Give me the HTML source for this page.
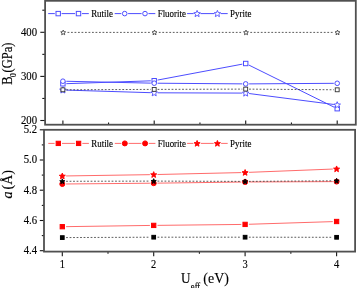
<!DOCTYPE html>
<html><head><meta charset="utf-8"><style>html,body{margin:0;padding:0;background:#fff;width:357px;height:288px;overflow:hidden}svg{display:block;filter:blur(0.45px)}</style></head>
<body><svg width="357" height="288" viewBox="0 0 357 288">
<rect width="357" height="288" fill="white"/>
<line x1="40.3" y1="32.3" x2="45.1" y2="32.3" stroke="#151515" stroke-width="1.1"/>
<line x1="40.3" y1="76.4" x2="45.1" y2="76.4" stroke="#151515" stroke-width="1.1"/>
<line x1="40.3" y1="120.5" x2="45.1" y2="120.5" stroke="#151515" stroke-width="1.1"/>
<line x1="42.3" y1="10.2" x2="45.1" y2="10.2" stroke="#151515" stroke-width="1.1"/>
<line x1="42.3" y1="54.35" x2="45.1" y2="54.35" stroke="#151515" stroke-width="1.1"/>
<line x1="42.3" y1="98.45" x2="45.1" y2="98.45" stroke="#151515" stroke-width="1.1"/>
<line x1="62.9" y1="120.5" x2="62.9" y2="124.7" stroke="#151515" stroke-width="1.1"/>
<line x1="154.2" y1="120.5" x2="154.2" y2="124.7" stroke="#151515" stroke-width="1.1"/>
<line x1="245.7" y1="120.5" x2="245.7" y2="124.7" stroke="#151515" stroke-width="1.1"/>
<line x1="337.2" y1="120.5" x2="337.2" y2="124.7" stroke="#151515" stroke-width="1.1"/>
<line x1="108.55" y1="122.5" x2="108.55" y2="124.7" stroke="#151515" stroke-width="1.1"/>
<line x1="199.95" y1="122.5" x2="199.95" y2="124.7" stroke="#151515" stroke-width="1.1"/>
<line x1="291.45" y1="122.5" x2="291.45" y2="124.7" stroke="#151515" stroke-width="1.1"/>
<line x1="67.50" y1="32.40" x2="150.20" y2="32.40" stroke="#333333" stroke-width="0.8" stroke-dasharray="1.8,1.7"/><line x1="158.80" y1="32.40" x2="241.70" y2="32.40" stroke="#333333" stroke-width="0.8" stroke-dasharray="1.8,1.7"/><line x1="250.30" y1="32.40" x2="333.20" y2="32.40" stroke="#333333" stroke-width="0.8" stroke-dasharray="1.8,1.7"/><polygon points="63.20,30.05 63.89,31.70 65.67,31.85 64.31,33.01 64.73,34.75 63.20,33.82 61.67,34.75 62.09,33.01 60.73,31.85 62.51,31.70" fill="white" stroke="#333333" stroke-width="0.8" stroke-linejoin="miter"/><polygon points="154.50,30.05 155.19,31.70 156.97,31.85 155.61,33.01 156.03,34.75 154.50,33.82 152.97,34.75 153.39,33.01 152.03,31.85 153.81,31.70" fill="white" stroke="#333333" stroke-width="0.8" stroke-linejoin="miter"/><polygon points="246.00,30.05 246.69,31.70 248.47,31.85 247.11,33.01 247.53,34.75 246.00,33.82 244.47,34.75 244.89,33.01 243.53,31.85 245.31,31.70" fill="white" stroke="#333333" stroke-width="0.8" stroke-linejoin="miter"/><polygon points="337.50,30.05 338.19,31.70 339.97,31.85 338.61,33.01 339.03,34.75 337.50,33.82 335.97,34.75 336.39,33.01 335.03,31.85 336.81,31.70" fill="white" stroke="#333333" stroke-width="0.8" stroke-linejoin="miter"/>
<line x1="66.30" y1="83.68" x2="150.80" y2="80.82" stroke="#4d4dff" stroke-width="1.0"/><line x1="157.54" y1="80.07" x2="242.36" y2="64.13" stroke="#4d4dff" stroke-width="1.0"/><line x1="248.75" y1="65.01" x2="334.15" y2="107.19" stroke="#4d4dff" stroke-width="1.0"/><rect x="60.70" y="81.60" width="4.4" height="4.4" fill="white" stroke="#4d4dff" stroke-width="1.0"/><rect x="152.00" y="78.50" width="4.4" height="4.4" fill="white" stroke="#4d4dff" stroke-width="1.0"/><rect x="243.50" y="61.30" width="4.4" height="4.4" fill="white" stroke="#4d4dff" stroke-width="1.0"/><rect x="335.00" y="106.50" width="4.4" height="4.4" fill="white" stroke="#4d4dff" stroke-width="1.0"/>
<line x1="66.30" y1="81.27" x2="150.80" y2="83.13" stroke="#4d4dff" stroke-width="1.0"/><line x1="157.60" y1="83.23" x2="242.30" y2="83.87" stroke="#4d4dff" stroke-width="1.0"/><line x1="249.10" y1="83.88" x2="333.80" y2="83.32" stroke="#4d4dff" stroke-width="1.0"/><circle cx="62.90" cy="81.20" r="2.3" fill="white" stroke="#4d4dff" stroke-width="1.0"/><circle cx="154.20" cy="83.20" r="2.3" fill="white" stroke="#4d4dff" stroke-width="1.0"/><circle cx="245.70" cy="83.90" r="2.3" fill="white" stroke="#4d4dff" stroke-width="1.0"/><circle cx="337.20" cy="83.30" r="2.3" fill="white" stroke="#4d4dff" stroke-width="1.0"/>
<line x1="66.30" y1="90.10" x2="150.80" y2="92.70" stroke="#4d4dff" stroke-width="1.0"/><line x1="157.60" y1="92.81" x2="242.30" y2="93.09" stroke="#4d4dff" stroke-width="1.0"/><line x1="249.07" y1="93.53" x2="333.83" y2="104.47" stroke="#4d4dff" stroke-width="1.0"/><polygon points="62.90,86.80 63.81,88.99 66.18,89.18 64.38,90.73 64.93,93.04 62.90,91.80 60.87,93.04 61.42,90.73 59.62,89.18 61.99,88.99" fill="white" stroke="#4d4dff" stroke-width="0.9" stroke-linejoin="miter"/><polygon points="154.20,89.60 155.11,91.79 157.48,91.98 155.68,93.53 156.23,95.84 154.20,94.60 152.17,95.84 152.72,93.53 150.92,91.98 153.29,91.79" fill="white" stroke="#4d4dff" stroke-width="0.9" stroke-linejoin="miter"/><polygon points="245.70,89.90 246.61,92.09 248.98,92.28 247.18,93.83 247.73,96.14 245.70,94.90 243.67,96.14 244.22,93.83 242.42,92.28 244.79,92.09" fill="white" stroke="#4d4dff" stroke-width="0.9" stroke-linejoin="miter"/><polygon points="337.20,101.70 338.11,103.89 340.48,104.08 338.68,105.63 339.23,107.94 337.20,106.70 335.17,107.94 335.72,105.63 333.92,104.08 336.29,103.89" fill="white" stroke="#4d4dff" stroke-width="0.9" stroke-linejoin="miter"/>
<line x1="66.30" y1="89.79" x2="150.80" y2="89.41" stroke="#333333" stroke-width="0.8" stroke-dasharray="1.8,1.7"/><line x1="157.60" y1="89.39" x2="242.30" y2="89.11" stroke="#333333" stroke-width="0.8" stroke-dasharray="1.8,1.7"/><line x1="249.10" y1="89.13" x2="333.80" y2="89.77" stroke="#333333" stroke-width="0.8" stroke-dasharray="1.8,1.7"/><rect x="60.95" y="87.85" width="3.9" height="3.9" fill="white" stroke="#333333" stroke-width="0.9"/><rect x="152.25" y="87.45" width="3.9" height="3.9" fill="white" stroke="#333333" stroke-width="0.9"/><rect x="243.75" y="87.15" width="3.9" height="3.9" fill="white" stroke="#333333" stroke-width="0.9"/><rect x="335.25" y="87.85" width="3.9" height="3.9" fill="white" stroke="#333333" stroke-width="0.9"/>
<rect x="45.1" y="0.8" width="310.7" height="123.9" fill="none" stroke="#505050" stroke-width="1.8"/>
<text transform="translate(37.10,35.60) scale(0.88,1)" text-anchor="end" font-size="12.2" font-family="Liberation Serif, serif" fill="#000" stroke="#000" stroke-width="0.15">400</text>
<text transform="translate(37.10,79.70) scale(0.88,1)" text-anchor="end" font-size="12.2" font-family="Liberation Serif, serif" fill="#000" stroke="#000" stroke-width="0.15">300</text>
<text transform="translate(37.10,123.80) scale(0.88,1)" text-anchor="end" font-size="12.2" font-family="Liberation Serif, serif" fill="#000" stroke="#000" stroke-width="0.15">200</text>
<line x1="48.20" y1="13.6" x2="54.80" y2="13.6" stroke="#4d4dff" stroke-width="1.0"/><line x1="61.60" y1="13.6" x2="75.10" y2="13.6" stroke="#4d4dff" stroke-width="1.0"/><line x1="81.90" y1="13.6" x2="88.80" y2="13.6" stroke="#4d4dff" stroke-width="1.0"/><rect x="56.00" y="11.40" width="4.4" height="4.4" fill="white" stroke="#4d4dff" stroke-width="1.0"/><rect x="76.30" y="11.40" width="4.4" height="4.4" fill="white" stroke="#4d4dff" stroke-width="1.0"/><text transform="translate(91.20,16.90) scale(0.84,1)" text-anchor="start" font-size="10.6" font-family="Liberation Serif, serif" fill="#000" stroke="#000" stroke-width="0.15">Rutile</text><line x1="114.70" y1="13.6" x2="121.30" y2="13.6" stroke="#4d4dff" stroke-width="1.0"/><line x1="128.10" y1="13.6" x2="141.60" y2="13.6" stroke="#4d4dff" stroke-width="1.0"/><line x1="148.40" y1="13.6" x2="155.30" y2="13.6" stroke="#4d4dff" stroke-width="1.0"/><circle cx="124.70" cy="13.60" r="2.3" fill="white" stroke="#4d4dff" stroke-width="1.0"/><circle cx="145.00" cy="13.60" r="2.3" fill="white" stroke="#4d4dff" stroke-width="1.0"/><text transform="translate(157.70,16.90) scale(0.84,1)" text-anchor="start" font-size="10.6" font-family="Liberation Serif, serif" fill="#000" stroke="#000" stroke-width="0.15">Fluorite</text><line x1="187.10" y1="13.6" x2="193.70" y2="13.6" stroke="#4d4dff" stroke-width="1.0"/><line x1="200.50" y1="13.6" x2="214.00" y2="13.6" stroke="#4d4dff" stroke-width="1.0"/><line x1="220.80" y1="13.6" x2="227.70" y2="13.6" stroke="#4d4dff" stroke-width="1.0"/><polygon points="197.10,10.40 198.01,12.59 200.38,12.78 198.58,14.33 199.13,16.64 197.10,15.40 195.07,16.64 195.62,14.33 193.82,12.78 196.19,12.59" fill="white" stroke="#4d4dff" stroke-width="0.9" stroke-linejoin="miter"/><polygon points="217.40,10.40 218.31,12.59 220.68,12.78 218.88,14.33 219.43,16.64 217.40,15.40 215.37,16.64 215.92,14.33 214.12,12.78 216.49,12.59" fill="white" stroke="#4d4dff" stroke-width="0.9" stroke-linejoin="miter"/><text transform="translate(230.10,16.90) scale(0.84,1)" text-anchor="start" font-size="10.6" font-family="Liberation Serif, serif" fill="#000" stroke="#000" stroke-width="0.15">Pyrite</text>
<line x1="39.8" y1="129.8" x2="44.0" y2="129.8" stroke="#151515" stroke-width="1.1"/>
<line x1="39.8" y1="160.0" x2="44.0" y2="160.0" stroke="#151515" stroke-width="1.1"/>
<line x1="39.8" y1="190.2" x2="44.0" y2="190.2" stroke="#151515" stroke-width="1.1"/>
<line x1="39.8" y1="220.5" x2="44.0" y2="220.5" stroke="#151515" stroke-width="1.1"/>
<line x1="39.8" y1="250.7" x2="44.0" y2="250.7" stroke="#151515" stroke-width="1.1"/>
<line x1="41.8" y1="144.9" x2="44.0" y2="144.9" stroke="#151515" stroke-width="1.1"/>
<line x1="41.8" y1="175.1" x2="44.0" y2="175.1" stroke="#151515" stroke-width="1.1"/>
<line x1="41.8" y1="205.4" x2="44.0" y2="205.4" stroke="#151515" stroke-width="1.1"/>
<line x1="41.8" y1="235.6" x2="44.0" y2="235.6" stroke="#151515" stroke-width="1.1"/>
<line x1="62.3" y1="251.6" x2="62.3" y2="256.2" stroke="#151515" stroke-width="1.1"/>
<line x1="153.7" y1="251.6" x2="153.7" y2="256.2" stroke="#151515" stroke-width="1.1"/>
<line x1="245.1" y1="251.6" x2="245.1" y2="256.2" stroke="#151515" stroke-width="1.1"/>
<line x1="336.6" y1="251.6" x2="336.6" y2="256.2" stroke="#151515" stroke-width="1.1"/>
<line x1="108.0" y1="251.6" x2="108.0" y2="253.7" stroke="#151515" stroke-width="1.1"/>
<line x1="199.39999999999998" y1="251.6" x2="199.39999999999998" y2="253.7" stroke="#151515" stroke-width="1.1"/>
<line x1="290.85" y1="251.6" x2="290.85" y2="253.7" stroke="#151515" stroke-width="1.1"/>
<line x1="66.10" y1="226.65" x2="149.90" y2="225.45" stroke="#ff3a3a" stroke-width="0.75"/><line x1="157.50" y1="225.36" x2="241.30" y2="224.44" stroke="#ff3a3a" stroke-width="0.75"/><line x1="248.90" y1="224.28" x2="332.80" y2="221.62" stroke="#ff3a3a" stroke-width="0.75"/><rect x="60.15" y="224.55" width="4.3" height="4.3" fill="#ff0000" stroke="#ff0000" stroke-width="1.0"/><rect x="151.55" y="223.25" width="4.3" height="4.3" fill="#ff0000" stroke="#ff0000" stroke-width="1.0"/><rect x="242.95" y="222.25" width="4.3" height="4.3" fill="#ff0000" stroke="#ff0000" stroke-width="1.0"/><rect x="334.45" y="219.35" width="4.3" height="4.3" fill="#ff0000" stroke="#ff0000" stroke-width="1.0"/>
<line x1="66.10" y1="183.97" x2="149.90" y2="183.23" stroke="#ff3a3a" stroke-width="0.75"/><line x1="157.50" y1="183.15" x2="241.30" y2="182.05" stroke="#ff3a3a" stroke-width="0.75"/><line x1="248.90" y1="181.98" x2="332.80" y2="181.62" stroke="#ff3a3a" stroke-width="0.75"/><circle cx="62.30" cy="184.00" r="2.5" fill="#ff0000" stroke="#ff0000" stroke-width="1.0"/><circle cx="153.70" cy="183.20" r="2.5" fill="#ff0000" stroke="#ff0000" stroke-width="1.0"/><circle cx="245.10" cy="182.00" r="2.5" fill="#ff0000" stroke="#ff0000" stroke-width="1.0"/><circle cx="336.60" cy="181.60" r="2.5" fill="#ff0000" stroke="#ff0000" stroke-width="1.0"/>
<line x1="66.10" y1="175.94" x2="149.90" y2="174.66" stroke="#ff3a3a" stroke-width="0.75"/><line x1="157.50" y1="174.51" x2="241.30" y2="172.59" stroke="#ff3a3a" stroke-width="0.75"/><line x1="248.90" y1="172.35" x2="332.80" y2="169.05" stroke="#ff3a3a" stroke-width="0.75"/><polygon points="62.30,173.05 63.15,175.09 65.34,175.26 63.67,176.69 64.18,178.84 62.30,177.69 60.42,178.84 60.93,176.69 59.26,175.26 61.45,175.09" fill="#ff0000" stroke="#ff0000" stroke-width="0.9" stroke-linejoin="miter"/><polygon points="153.70,171.65 154.55,173.69 156.74,173.86 155.07,175.29 155.58,177.44 153.70,176.29 151.82,177.44 152.33,175.29 150.66,173.86 152.85,173.69" fill="#ff0000" stroke="#ff0000" stroke-width="0.9" stroke-linejoin="miter"/><polygon points="245.10,169.55 245.95,171.59 248.14,171.76 246.47,173.19 246.98,175.34 245.10,174.19 243.22,175.34 243.73,173.19 242.06,171.76 244.25,171.59" fill="#ff0000" stroke="#ff0000" stroke-width="0.9" stroke-linejoin="miter"/><polygon points="336.60,165.95 337.45,167.99 339.64,168.16 337.97,169.59 338.48,171.74 336.60,170.59 334.72,171.74 335.23,169.59 333.56,168.16 335.75,167.99" fill="#ff0000" stroke="#ff0000" stroke-width="0.9" stroke-linejoin="miter"/>
<line x1="66.10" y1="181.29" x2="149.90" y2="181.11" stroke="#333333" stroke-width="0.8" stroke-dasharray="1.8,1.7"/><line x1="157.50" y1="181.11" x2="241.30" y2="181.39" stroke="#333333" stroke-width="0.8" stroke-dasharray="1.8,1.7"/><line x1="248.90" y1="181.38" x2="332.80" y2="180.82" stroke="#333333" stroke-width="0.8" stroke-dasharray="1.8,1.7"/><polygon points="62.30,178.85 63.01,180.57 64.87,180.72 63.46,181.93 63.89,183.73 62.30,182.77 60.71,183.73 61.14,181.93 59.73,180.72 61.59,180.57" fill="#000" stroke="#000" stroke-width="0.9" stroke-linejoin="miter"/><polygon points="153.70,178.65 154.41,180.37 156.27,180.52 154.86,181.73 155.29,183.53 153.70,182.56 152.11,183.53 152.54,181.73 151.13,180.52 152.99,180.37" fill="#000" stroke="#000" stroke-width="0.9" stroke-linejoin="miter"/><polygon points="245.10,178.95 245.81,180.67 247.67,180.82 246.26,182.03 246.69,183.83 245.10,182.87 243.51,183.83 243.94,182.03 242.53,180.82 244.39,180.67" fill="#000" stroke="#000" stroke-width="0.9" stroke-linejoin="miter"/><polygon points="336.60,178.35 337.31,180.07 339.17,180.22 337.76,181.43 338.19,183.23 336.60,182.27 335.01,183.23 335.44,181.43 334.03,180.22 335.89,180.07" fill="#000" stroke="#000" stroke-width="0.9" stroke-linejoin="miter"/>
<line x1="66.10" y1="237.58" x2="149.90" y2="237.22" stroke="#333333" stroke-width="0.8" stroke-dasharray="1.8,1.7"/><line x1="157.50" y1="237.20" x2="241.30" y2="237.20" stroke="#333333" stroke-width="0.8" stroke-dasharray="1.8,1.7"/><line x1="248.90" y1="237.20" x2="332.80" y2="237.30" stroke="#333333" stroke-width="0.8" stroke-dasharray="1.8,1.7"/><rect x="60.45" y="235.75" width="3.7" height="3.7" fill="#000" stroke="#000" stroke-width="1.0"/><rect x="151.85" y="235.35" width="3.7" height="3.7" fill="#000" stroke="#000" stroke-width="1.0"/><rect x="243.25" y="235.35" width="3.7" height="3.7" fill="#000" stroke="#000" stroke-width="1.0"/><rect x="334.75" y="235.45" width="3.7" height="3.7" fill="#000" stroke="#000" stroke-width="1.0"/>
<rect x="44.0" y="129.8" width="311.1" height="121.79999999999998" fill="none" stroke="#505050" stroke-width="1.8"/>
<text transform="translate(37.10,133.10) scale(0.88,1)" text-anchor="end" font-size="12.2" font-family="Liberation Serif, serif" fill="#000" stroke="#000" stroke-width="0.15">5.2</text>
<text transform="translate(37.10,163.30) scale(0.88,1)" text-anchor="end" font-size="12.2" font-family="Liberation Serif, serif" fill="#000" stroke="#000" stroke-width="0.15">5.0</text>
<text transform="translate(37.10,193.50) scale(0.88,1)" text-anchor="end" font-size="12.2" font-family="Liberation Serif, serif" fill="#000" stroke="#000" stroke-width="0.15">4.8</text>
<text transform="translate(37.10,223.80) scale(0.88,1)" text-anchor="end" font-size="12.2" font-family="Liberation Serif, serif" fill="#000" stroke="#000" stroke-width="0.15">4.6</text>
<text transform="translate(37.10,254.00) scale(0.88,1)" text-anchor="end" font-size="12.2" font-family="Liberation Serif, serif" fill="#000" stroke="#000" stroke-width="0.15">4.4</text>
<text transform="translate(62.30,267.90) scale(0.88,1)" text-anchor="middle" font-size="11.9" font-family="Liberation Serif, serif" fill="#000" stroke="#000" stroke-width="0.15">1</text>
<text transform="translate(153.70,267.90) scale(0.88,1)" text-anchor="middle" font-size="11.9" font-family="Liberation Serif, serif" fill="#000" stroke="#000" stroke-width="0.15">2</text>
<text transform="translate(245.10,267.90) scale(0.88,1)" text-anchor="middle" font-size="11.9" font-family="Liberation Serif, serif" fill="#000" stroke="#000" stroke-width="0.15">3</text>
<text transform="translate(336.60,267.90) scale(0.88,1)" text-anchor="middle" font-size="11.9" font-family="Liberation Serif, serif" fill="#000" stroke="#000" stroke-width="0.15">4</text>
<line x1="48.30" y1="143.4" x2="54.60" y2="143.4" stroke="#ff3a3a" stroke-width="0.75"/><line x1="62.00" y1="143.4" x2="74.90" y2="143.4" stroke="#ff3a3a" stroke-width="0.75"/><line x1="82.30" y1="143.4" x2="88.90" y2="143.4" stroke="#ff3a3a" stroke-width="0.75"/><rect x="56.15" y="141.25" width="4.3" height="4.3" fill="#ff0000" stroke="#ff0000" stroke-width="1.0"/><rect x="76.45" y="141.25" width="4.3" height="4.3" fill="#ff0000" stroke="#ff0000" stroke-width="1.0"/><text transform="translate(91.30,146.70) scale(0.84,1)" text-anchor="start" font-size="10.6" font-family="Liberation Serif, serif" fill="#000" stroke="#000" stroke-width="0.15">Rutile</text><line x1="114.80" y1="143.4" x2="121.10" y2="143.4" stroke="#ff3a3a" stroke-width="0.75"/><line x1="128.50" y1="143.4" x2="141.40" y2="143.4" stroke="#ff3a3a" stroke-width="0.75"/><line x1="148.80" y1="143.4" x2="155.40" y2="143.4" stroke="#ff3a3a" stroke-width="0.75"/><circle cx="124.80" cy="143.40" r="2.5" fill="#ff0000" stroke="#ff0000" stroke-width="1.0"/><circle cx="145.10" cy="143.40" r="2.5" fill="#ff0000" stroke="#ff0000" stroke-width="1.0"/><text transform="translate(157.80,146.70) scale(0.84,1)" text-anchor="start" font-size="10.6" font-family="Liberation Serif, serif" fill="#000" stroke="#000" stroke-width="0.15">Fluorite</text><line x1="187.10" y1="143.4" x2="193.40" y2="143.4" stroke="#ff3a3a" stroke-width="0.75"/><line x1="200.80" y1="143.4" x2="213.70" y2="143.4" stroke="#ff3a3a" stroke-width="0.75"/><line x1="221.10" y1="143.4" x2="227.70" y2="143.4" stroke="#ff3a3a" stroke-width="0.75"/><polygon points="197.10,140.45 197.95,142.49 200.14,142.66 198.47,144.09 198.98,146.24 197.10,145.09 195.22,146.24 195.73,144.09 194.06,142.66 196.25,142.49" fill="#ff0000" stroke="#ff0000" stroke-width="0.9" stroke-linejoin="miter"/><polygon points="217.40,140.45 218.25,142.49 220.44,142.66 218.77,144.09 219.28,146.24 217.40,145.09 215.52,146.24 216.03,144.09 214.36,142.66 216.55,142.49" fill="#ff0000" stroke="#ff0000" stroke-width="0.9" stroke-linejoin="miter"/><text transform="translate(230.10,146.70) scale(0.84,1)" text-anchor="start" font-size="10.6" font-family="Liberation Serif, serif" fill="#000" stroke="#000" stroke-width="0.15">Pyrite</text>
<text transform="translate(181.00,282.90) scale(0.85,1)" text-anchor="start" font-size="15.5" font-family="Liberation Serif, serif" fill="#000" stroke="#000" stroke-width="0.15">U</text>
<text transform="translate(190.80,289.50) scale(0.85,1)" text-anchor="start" font-size="10.2" font-family="Liberation Serif, serif" fill="#000" stroke="#000" stroke-width="0.15">eff</text>
<text transform="translate(203.30,282.90) scale(0.9,1)" text-anchor="start" font-size="15.5" font-family="Liberation Serif, serif" fill="#000" stroke="#000" stroke-width="0.15">(eV)</text>
<text transform="translate(11.6,84.8) rotate(-90) scale(0.8,1)" font-size="15.6" font-family="Liberation Serif, serif" fill="#000" stroke="#000" stroke-width="0.15">B</text>
<text transform="translate(16.4,77.2) rotate(-90)" font-size="8.4" font-family="Liberation Serif, serif" fill="#000" stroke="#000" stroke-width="0.15">0</text>
<text transform="translate(11.6,72.4) rotate(-90) scale(0.8,1)" font-size="15.6" font-family="Liberation Serif, serif" fill="#000" stroke="#000" stroke-width="0.15">(GPa)</text>
<text transform="translate(12.4,198.6) rotate(-90)" font-size="14" font-family="Liberation Serif, serif" fill="#000" stroke="#000" stroke-width="0.15"><tspan font-style="italic">a</tspan><tspan dx="2.2">(Å)</tspan></text>
</svg></body></html>
